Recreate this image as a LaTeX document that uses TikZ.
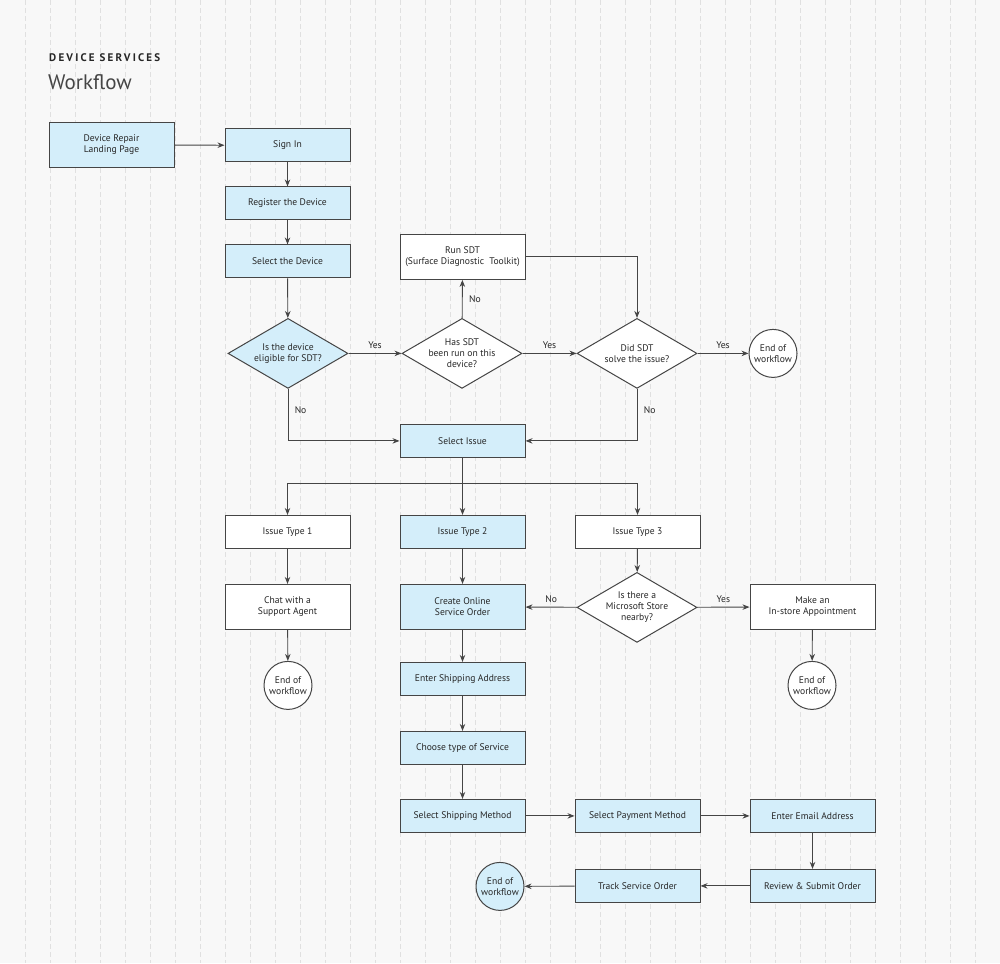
\documentclass[tikz,border=0pt]{standalone}
\usepackage{fontspec}
\setmainfont{PT Sans}
\usepackage{tikz}
\usetikzlibrary{shapes.geometric, arrows.meta}
\definecolor{paper}{HTML}{F8F8F8}
\definecolor{gridgray}{HTML}{E0E0E0}
\definecolor{boxblue}{HTML}{D4EEFA}
\definecolor{ink}{HTML}{454545}
\definecolor{txt}{HTML}{262626}

\begin{document}
\begin{tikzpicture}[x=1pt,y=-1pt,font=\fontsize{9.6}{11.2}\selectfont,text=txt]
    \tikzstyle{stepbox}=[rectangle,draw=ink,line width=1pt,fill=white,minimum width=125pt,minimum height=33pt,align=center,inner sep=2pt]
    \tikzstyle{tallbox}=[stepbox,minimum height=45pt]
    \tikzstyle{decision}=[diamond,draw=ink,line width=1pt,fill=white,minimum width=120pt,minimum height=70pt,aspect=1.7,inner sep=-6pt,align=center]
    \tikzstyle{stop}=[circle,draw=ink,line width=1pt,fill=white,minimum size=48pt,inner sep=0pt,align=center]
    \tikzstyle{blue}=[fill=boxblue]
    \tikzstyle{link}=[draw=ink,line width=0.9pt,-{Stealth[length=7pt,width=5.5pt]}]

    % page and guide lines
    \fill[paper] (0,0) rectangle (1000,963);
    \foreach \x in {25,50,...,975}
        \draw[gridgray,line width=0.8pt,dash pattern=on 5pt off 3pt] (\x,0) -- (\x,963);
    \useasboundingbox (0,0) rectangle (1000,963);

    \node (kicker)[anchor=west,inner sep=0pt] at (49,57)
        {\fontsize{11}{13}\selectfont\bfseries\addfontfeatures{LetterSpace=20}DEVICE SERVICES};
    \node (title)[anchor=west,inner sep=0pt,text=ink] at (48,82)
        {\fontsize{21}{25}\selectfont Workflow};

    % upper part
    \node (land)[tallbox,blue] at (111.5,144.5) {Device Repair\\Landing Page};
    \node (signin)[stepbox,blue] at (287.5,145) {Sign In};
    \node (register)[stepbox,blue] at (287.5,203) {Register the Device};
    \node (device)[stepbox,blue] at (287.5,261) {Select the Device};
    \node (eligible)[decision,blue] at (288,353) {Is the device\\eligible for SDT?};
    \node (hassdt)[decision] at (462,353) {Has SDT\\been run on this\\device?};
    \node (runsdt)[tallbox] at (462.5,256.5) {Run SDT\\(Surface Diagnostic~ Toolkit)};
    \node (solved)[decision] at (637,353) {Did SDT\\solve the issue?};
    \node (endA)[stop] at (773,353) {End of\\workflow};
    \node (issue)[stepbox,blue] at (462.5,440.5) {Select Issue};

    % issue types
    \coordinate (split) at (462.5,483);
    \node (typeA)[stepbox] at (287.5,531.5) {Issue Type 1};
    \node (typeB)[stepbox,blue] at (462.5,531.5) {Issue Type 2};
    \node (typeC)[stepbox] at (637.5,531.5) {Issue Type 3};
    \node (chat)[tallbox] at (287.5,606.5) {Chat with a\\Support Agent};
    \node (endB)[stop] at (288,685) {End of\\workflow};
    \node (online)[tallbox,blue] at (462.5,606.5) {Create Online\\Service Order};
    \node (store)[decision] at (637,607) {Is there a\\Microsoft Store\\nearby?};
    \node (instore)[tallbox] at (812.5,606.5) {Make an\\In-store Appointment};
    \node (endC)[stop] at (812,685) {End of\\workflow};

    % online order
    \node (address)[stepbox,blue] at (462.5,678.5) {Enter Shipping Address};
    \node (service)[stepbox,blue] at (462.5,747.5) {Choose type of Service};
    \node (shipping)[stepbox,blue] at (462.5,815.5) {Select Shipping Method};
    \node (payment)[stepbox,blue] at (637.5,815.5) {Select Payment Method};
    \node (email)[stepbox,blue] at (812.5,815.5) {Enter Email Address};
    \node (review)[stepbox,blue] at (812.5,885.5) {Review \& Submit Order};
    \node (track)[stepbox,blue] at (637.5,885.5) {Track Service Order};
    \node (endD)[stop,blue] at (500,886) {End of\\workflow};

    \draw[link] (land) -- (signin);
    \draw[link] (signin) -- (register);
    \draw[link] (register) -- (device);
    \draw[link] (device) -- (eligible);
    \draw[link] (eligible) -- node[above=1pt] {Yes} (hassdt);
    \draw[link] (eligible.south) |- node[pos=0.2,right=3pt] {No} (issue.west);
    \draw[link] (hassdt) -- node[right=3pt] {No} (runsdt);
    \draw[link] (hassdt) -- node[above=1pt] {Yes} (solved);
    \draw[link] (runsdt.east) -| (solved.north);
    \draw[link] (solved) -- node[above=1pt] {Yes} (endA);
    \draw[link] (solved.south) |- node[pos=0.2,right=3pt] {No} (issue.east);
    \draw[draw=ink,line width=0.9pt] (issue) -- (split);
    \draw[link] (split) -| (typeA);
    \draw[link] (split) -- (typeB);
    \draw[link] (split) -| (typeC);
    \draw[link] (typeA) -- (chat);
    \draw[link] (chat) -- (endB);
    \draw[link] (typeB) -- (online);
    \draw[link] (typeC) -- (store);
    \draw[link] (store) -- node[above=1pt] {No} (online);
    \draw[link] (store) -- node[above=1pt] {Yes} (instore);
    \draw[link] (instore) -- (endC);
    \draw[link] (online) -- (address);
    \draw[link] (address) -- (service);
    \draw[link] (service) -- (shipping);
    \draw[link] (shipping) -- (payment);
    \draw[link] (payment) -- (email);
    \draw[link] (email) -- (review);
    \draw[link] (review) -- (track);
    \draw[link] (track) -- (endD);
\end{tikzpicture}
\end{document}
